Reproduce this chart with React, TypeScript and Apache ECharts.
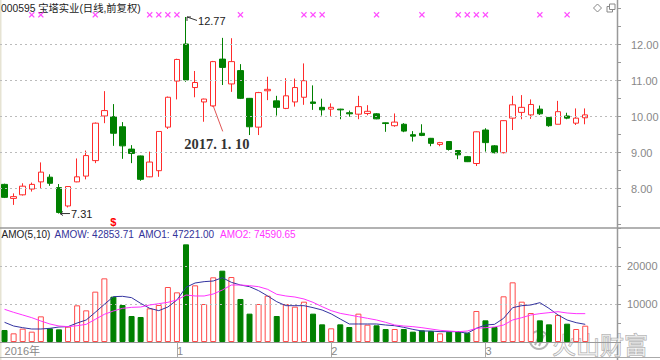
import React, { useEffect, useRef } from 'react';
import * as echarts from 'echarts';

// ---------- data ----------
const dates = [
  '2016-12-06','2016-12-07','2016-12-08','2016-12-09','2016-12-12','2016-12-13','2016-12-14','2016-12-15','2016-12-16','2016-12-19',
  '2016-12-20','2016-12-21','2016-12-22','2016-12-23','2016-12-26','2016-12-27','2016-12-28','2016-12-29','2016-12-30',
  '2017-01-03','2017-01-04','2017-01-05','2017-01-06','2017-01-09','2017-01-10','2017-01-11','2017-01-12','2017-01-13','2017-01-16',
  '2017-01-17','2017-01-18','2017-01-19','2017-01-20','2017-01-23','2017-01-24','2017-01-25',
  '2017-02-03','2017-02-06','2017-02-07','2017-02-08','2017-02-09','2017-02-10','2017-02-13','2017-02-14','2017-02-15','2017-02-16',
  '2017-02-17','2017-02-20','2017-02-21','2017-02-22','2017-02-23','2017-02-24','2017-02-27',
  '2017-03-01','2017-03-02','2017-03-03','2017-03-06','2017-03-07','2017-03-08','2017-03-09','2017-03-10','2017-03-13','2017-03-14',
  '2017-03-15','2017-03-16',
];

// [open, close, low, high]
const candles: number[][] = [
  [8.12, 7.76, 7.74, 8.14], [7.73, 7.78, 7.55, 7.87], [7.83, 8.07, 7.81, 8.15], [7.99, 8.12, 7.92, 8.17], [8.19, 8.46, 8.01, 8.73],
  [8.32, 8.15, 8.08, 8.40], [8.03, 7.34, 7.31, 8.13], [7.52, 8.06, 7.48, 8.07], [8.19, 8.33, 8.18, 8.84], [8.35, 8.92, 8.26, 9.06],
  [8.78, 9.82, 8.71, 9.84], [10.02, 10.17, 9.82, 10.71], [10.00, 9.54, 9.19, 10.35], [9.72, 9.19, 8.83, 9.85], [9.10, 8.98, 8.71, 9.21],
  [8.91, 8.26, 8.22, 8.92], [8.33, 8.74, 8.32, 9.03], [8.50, 9.59, 8.33, 9.60], [9.71, 10.54, 9.66, 10.56], [10.99, 11.59, 10.48, 11.61],
  [12.02, 11.02, 10.97, 12.77], [10.81, 10.95, 10.54, 11.27], [10.41, 10.49, 9.86, 10.50], [10.30, 11.53, 10.28, 11.55], [11.60, 11.37, 10.88, 12.19],
  [10.91, 11.53, 10.69, 12.18], [11.28, 10.51, 10.49, 11.46], [10.51, 9.72, 9.49, 10.52], [9.71, 10.67, 9.49, 10.69], [10.72, 10.76, 10.46, 11.11],
  [10.44, 10.26, 10.03, 10.58], [10.23, 10.58, 10.21, 11.07], [10.41, 10.81, 10.28, 11.06], [10.54, 11.00, 10.33, 11.48], [10.41, 10.37, 10.19, 10.87],
  [10.26, 10.19, 10.03, 10.50], [10.21, 10.26, 10.02, 10.37], [10.21, 10.19, 9.93, 10.22], [10.11, 10.08, 10.00, 10.17], [10.07, 10.28, 9.93, 10.58],
  [10.09, 10.15, 10.04, 10.32], [10.08, 9.94, 9.93, 10.10], [9.83, 9.81, 9.58, 9.84], [9.75, 9.85, 9.72, 10.09], [9.79, 9.60, 9.57, 9.82],
  [9.50, 9.46, 9.31, 9.60], [9.54, 9.48, 9.46, 9.79], [9.40, 9.26, 9.18, 9.41], [9.23, 9.28, 9.18, 9.30], [9.31, 9.09, 9.06, 9.32],
  [9.06, 8.94, 8.82, 9.07], [8.89, 8.75, 8.74, 8.91], [8.70, 9.58, 8.63, 9.59], [9.63, 9.28, 9.03, 9.68], [9.19, 9.00, 8.98, 9.21],
  [9.00, 9.89, 8.98, 9.90], [9.96, 10.33, 9.63, 10.58], [10.12, 10.26, 9.93, 10.60], [10.05, 10.34, 9.94, 10.48], [10.21, 10.08, 10.05, 10.31],
  [9.98, 9.75, 9.72, 9.99], [9.79, 10.14, 9.79, 10.44], [10.02, 9.96, 9.93, 10.11], [9.82, 9.96, 9.77, 10.23], [9.97, 10.05, 9.79, 10.23],
];

// turnover (AMO)
const amo = [
  3160, 2280, 3510, 2720, 6750, 3600, 3330, 4040, 9650, 8330,
  13250, 16750, 11930, 9740, 6840, 6580, 8860, 9740, 14470, 13070,
  25700, 14910, 10000, 17020, 18770, 17100, 11320, 7460, 10000, 12190,
  6840, 10000, 9300, 10610, 7460, 4650, 3600, 4650, 3950, 7460,
  4560, 4390, 3420, 3420, 3420, 2720, 3070, 2890, 2280, 2720,
  2890, 2460, 8160, 5700, 3950, 12020, 15700, 10610, 7630, 5700,
  4650, 7110, 4820, 3420, 4290,
];
// AMO1 (5-day) as drawn
const amo1 = [
  5180, 4210, 3770, 3420, 3420, 3600, 3950, 4040, 5000, 5790,
  7810, 9910, 11930, 12020, 11670, 10180, 8860, 8250, 9210, 11050,
  14390, 15530, 15880, 16050, 16930, 15700, 15000, 14560, 13510, 12110,
  10610, 9560, 9560, 9560, 9040, 8420, 7400, 6050, 4740, 4740,
  4740, 4740, 4470, 4290, 3860, 3330, 2890, 2890, 2720, 2720,
  2720, 2280, 3600, 4470, 4650, 6230, 9040, 9560, 9740, 10350,
  8860, 7110, 5790, 5090, 4650,
];
// AMO2 (10-day) as drawn
const amo2 = [
  8600, 7810, 7110, 6400, 5530, 4740, 4210, 4040, 4290, 4650,
  5970, 7290, 8160, 8860, 9120, 9210, 9740, 10090, 10440, 11050,
  12370, 12110, 12110, 12630, 13680, 15000, 15000, 14820, 14560, 13860,
  12550, 12110, 11840, 11320, 10440, 9300, 8250, 7540, 7110, 6670,
  6230, 5790, 5180, 4470, 4210, 4040, 3770, 3420, 3070, 2890,
  2720, 2890, 3600, 3770, 3950, 4470, 5790, 6400, 7110, 7460,
  7720, 7980, 7630, 7460, 7460,
];
// days with the magenta signal marker (0-based index)
const signalDays = [3, 4, 10, 16, 17, 18, 19, 26, 33, 34, 35, 41, 46, 50, 51, 52, 53, 59, 62];
const priceTicks = [8, 9, 10, 11, 12];
const amoTicks = [10000, 20000];
const highIdx = 20;      // 12.77
const lowIdx = 6;        // 7.31
const noteIdx = 23;      // 2017.1.10 annotation target
const dollarIdx = 12;

const RED = '#ff2b2b';
const RED_BAR = '#ff4a4a';
const GREEN = '#008000';

export default function App() {
  const ref = useRef<HTMLDivElement>(null);
  useEffect(() => {
    if (!ref.current) return;
    const chart = echarts.init(ref.current, undefined, { renderer: 'svg' });
    const cats = [...dates, '', '', ''];
    const isUp = (c: number[]) => c[1] >= c[0];
    const isMonthStart = (i: number) => i > 0 && i < dates.length && dates[i].slice(0, 7) !== dates[i - 1].slice(0, 7);

    const markerLevel = 12.83;
    const option: any = {
      animation: false,
      backgroundColor: '#ffffff',
      grid: [
        { left: 0, right: 43, top: 8.7, height: 216, outerBoundsMode: 'none' },
        { left: 0, right: 43, top: 228, height: 114, outerBoundsMode: 'none' },
      ],
      xAxis: [
        { type: 'category', gridIndex: 0, data: cats, boundaryGap: true, show: false },
        {
          type: 'category', gridIndex: 1, data: cats, boundaryGap: true,
          axisLine: { show: true, lineStyle: { color: '#999', width: 1 } },
          axisTick: {
            show: true, alignWithLabel: true, length: 15,
            interval: (i: number) => isMonthStart(i),
            lineStyle: { color: '#aaa' },
          },
          axisLabel: {
            show: true, align: 'left', margin: 3, color: '#888', fontSize: 11,
            fontFamily: 'Liberation Sans, Noto Sans CJK SC',
            interval: (i: number) => i === 0 || isMonthStart(i),
            formatter: (v: string, i: number) => (i === 0 ? '2016年' : String(Number(v.slice(5, 7)))),
          },
          splitLine: { show: false },
        },
      ],
      yAxis: [
        {
          type: 'value', gridIndex: 0, position: 'right', min: 7, max: 13, interval: 0.5,
          axisLine: { show: false },
          axisTick: { show: true, length: 4, lineStyle: { color: '#999' } },
          axisLabel: {
            color: '#888', fontSize: 11, margin: 14, fontFamily: 'Liberation Sans',
            formatter: (v: number) => (priceTicks.includes(v) ? v.toFixed(2) : ''),
          },
          splitLine: { show: false },
        },
        {
          type: 'value', gridIndex: 1, position: 'right', min: 0, max: 30000, interval: 5000,
          axisLine: { show: false },
          axisTick: { show: true, length: 4, lineStyle: { color: '#999' } },
          axisLabel: {
            color: '#888', fontSize: 11, margin: 10, fontFamily: 'Liberation Sans',
            formatter: (v: number) => (amoTicks.includes(v) ? String(v) : ''),
          },
          splitLine: { show: false },
        },
      ],
      series: [
        {
          type: 'candlestick', xAxisIndex: 0, yAxisIndex: 0, barWidth: 6,
          data: candles,
          itemStyle: { color: '#ffffff', color0: GREEN, borderColor: RED, borderColor0: GREEN, borderWidth: 1 },
          markLine: {
            silent: true, symbol: ['none', 'none'], label: { show: false },
            lineStyle: { type: [2, 3], color: '#bbb', width: 1 },
            data: priceTicks.map((v) => ({ yAxis: v })),
          },
        },
        {
          type: 'scatter', xAxisIndex: 0, yAxisIndex: 0, symbolSize: 6,
          symbol: 'path://M0,1.5L1.5,0L5,3.5L8.5,0L10,1.5L6.5,5L10,8.5L8.5,10L5,6.5L1.5,10L0,8.5L3.5,5Z',
          itemStyle: { color: '#ff22ff' },
          data: dates.map((_, i) => (signalDays.includes(i) ? markerLevel : '-')),
        },
        {
          type: 'bar', xAxisIndex: 1, yAxisIndex: 1, barWidth: 6,
          data: amo.map((v, i) => ({
            value: v,
            itemStyle: isUp(candles[i])
              ? { color: '#ffffff', borderColor: RED_BAR, borderWidth: 1 }
              : { color: GREEN, borderColor: GREEN, borderWidth: 1 },
          })),
          markLine: {
            silent: true, symbol: ['none', 'none'], label: { show: false },
            lineStyle: { type: [2, 3], color: '#bbb', width: 1 },
            data: amoTicks.map((v) => ({ yAxis: v })),
          },
        },
        {
          type: 'line', xAxisIndex: 1, yAxisIndex: 1, data: amo1, symbol: 'none',
          lineStyle: { color: '#3333a0', width: 1 }, z: 5,
        },
        {
          type: 'line', xAxisIndex: 1, yAxisIndex: 1, data: amo2, symbol: 'none',
          lineStyle: { color: '#ff33ff', width: 1 }, z: 5,
        },
      ],
    };
    chart.setOption(option);

    const px = (i: number, v: number) => chart.convertToPixel({ xAxisIndex: 0, yAxisIndex: 0 }, [i, v]) as number[];
    const hp = px(highIdx, candles[highIdx][3]);
    const lp = px(lowIdx, candles[lowIdx][2]);
    const np = px(noteIdx, candles[noteIdx][0]);
    const dp = px(dollarIdx, 7.08);
    const font = 'Liberation Sans, Noto Sans CJK SC';

    const graphic: any[] = [
      { type: 'rect', shape: { x: 0, y: 0, width: 1.5, height: 360 }, style: { fill: '#e6e3d3' }, silent: true },
      { type: 'line', shape: { x1: 617.5, y1: 0, x2: 617.5, y2: 360 }, style: { stroke: '#999', lineWidth: 1.5 }, silent: true },
      { type: 'line', shape: { x1: 0, y1: 228, x2: 660, y2: 228 }, style: { stroke: '#999', lineWidth: 1.5 }, silent: true },
      { type: 'line', shape: { x1: 0, y1: 357.5, x2: 660, y2: 357.5 }, style: { stroke: '#aaa', lineWidth: 1 }, silent: true },
      { type: 'text', x: 1, y: 8, style: { text: '000595 宝塔实业(日线,前复权)', fill: '#222', fontSize: 10.3, fontFamily: font, verticalAlign: 'middle' } },
      { type: 'text', x: 1.5, y: 234.5, style: { text: 'AMO(5,10)', fill: '#222', fontSize: 10, fontFamily: font, verticalAlign: 'middle' } },
      { type: 'text', x: 54.5, y: 234.5, style: { text: 'AMOW: 42853.71', fill: '#333399', fontSize: 10, fontFamily: font, verticalAlign: 'middle' } },
      { type: 'text', x: 138.5, y: 234.5, style: { text: 'AMO1: 47221.00', fill: '#333399', fontSize: 10, fontFamily: font, verticalAlign: 'middle' } },
      { type: 'text', x: 220, y: 234.5, style: { text: 'AMO2: 74590.65', fill: '#ff33ff', fontSize: 10, fontFamily: font, verticalAlign: 'middle' } },
      // top-right icons
      { type: 'polygon', shape: { points: [[597.5, 4], [601.5, 8], [597.5, 12], [593.5, 8]] }, style: { fill: 'none', stroke: '#888', lineWidth: 1 } },
      { type: 'rect', shape: { x: 607, y: 6.5, width: 5.5, height: 5.5 }, style: { fill: '#fff', stroke: '#888', lineWidth: 1 } },
      { type: 'rect', shape: { x: 609.5, y: 4, width: 5.5, height: 5.5 }, style: { fill: '#fff', stroke: '#888', lineWidth: 1 } },
      // 12.77
      { type: 'polyline', shape: { points: [[hp[0] + 1, hp[1] + 4], [hp[0] + 1, hp[1]], [hp[0] + 5, hp[1]]] }, style: { stroke: '#333', lineWidth: 1, fill: 'none' } },
      { type: 'line', shape: { x1: hp[0] + 1, y1: hp[1], x2: hp[0] + 11, y2: hp[1] + 3.5 }, style: { stroke: '#333', lineWidth: 1 } },
      { type: 'text', x: hp[0] + 12, y: hp[1] + 4, style: { text: '12.77', fill: '#222', fontSize: 11, fontFamily: font, verticalAlign: 'middle' } },
      // 7.31
      { type: 'polyline', shape: { points: [[lp[0] + 4, lp[1] - 2], [lp[0] + 1, lp[1]], [lp[0] + 4, lp[1] + 2]] }, style: { stroke: '#333', lineWidth: 1, fill: 'none' } },
      { type: 'line', shape: { x1: lp[0] + 1, y1: lp[1], x2: lp[0] + 11, y2: lp[1] }, style: { stroke: '#333', lineWidth: 1 } },
      { type: 'text', x: lp[0] + 12, y: lp[1] + 0.5, style: { text: '7.31', fill: '#222', fontSize: 11, fontFamily: font, verticalAlign: 'middle' } },
      // 2017.1.10
      { type: 'line', shape: { x1: np[0], y1: np[1], x2: np[0] + 9.5, y2: np[1] + 25.5 }, style: { stroke: '#e05555', lineWidth: 1 } },
      { type: 'text', x: np[0] - 29, y: np[1] + 38.5, style: { text: '2017. 1. 10', fill: '#333', fontSize: 14.5, fontWeight: 'bold', fontFamily: 'Liberation Serif', verticalAlign: 'middle' } },
      // $
      { type: 'text', x: dp[0], y: dp[1], style: { text: '$', fill: '#ff0000', fontSize: 11, fontWeight: 'bold', fontFamily: font, align: 'center', verticalAlign: 'middle' } },
      // watermark
      { type: 'circle', shape: { cx: 539, cy: 340, r: 9 }, style: { fill: 'rgba(255,255,255,0.4)', stroke: 'rgba(150,150,150,0.7)', lineWidth: 2 }, silent: true },
      { type: 'line', shape: { x1: 535, y1: 345, x2: 540, y2: 334 }, style: { stroke: 'rgba(150,150,150,0.7)', lineWidth: 2 }, silent: true },
      { type: 'line', shape: { x1: 539, y1: 346, x2: 544, y2: 335 }, style: { stroke: 'rgba(150,150,150,0.7)', lineWidth: 2 }, silent: true },
      { type: 'text', x: 552, y: 343, silent: true, style: { text: '火山财富', fill: 'rgba(255,255,255,0.55)', stroke: 'rgba(140,140,140,0.75)', lineWidth: 1, fontSize: 24, fontFamily: 'Noto Sans CJK SC', verticalAlign: 'middle' } },
    ];
    chart.setOption({ graphic });

    return () => chart.dispose();
  }, []);
  return <div ref={ref} style={{ position: 'fixed', left: 0, top: 0, width: 660, height: 360, background: '#fff' }} />;
}
